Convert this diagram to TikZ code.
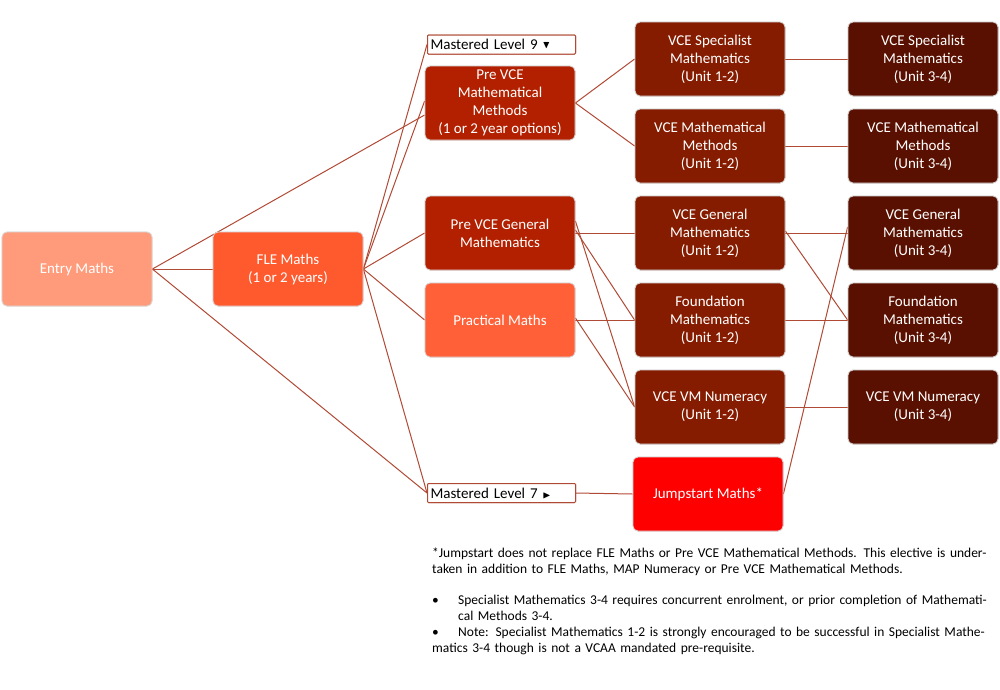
\documentclass[tikz,border=0pt]{standalone}
\usepackage{amssymb}
\usepackage{fontspec}
\setmainfont{Carlito}
\begin{document}
\begin{tikzpicture}[x=1pt,y=-1pt,
 box/.style={draw=white!85!black,line width=0.8pt,rounded corners=5pt,text=white,align=center,font=\fontsize{15}{18}\selectfont,inner sep=0pt},
 ln/.style={draw=lnc,line width=1pt},
 lab/.style={draw=lnc,line width=1pt,fill=white,rounded corners=1pt,font=\fontsize{15}{17}\selectfont,anchor=west,text width=142pt,align=left,minimum height=19pt,inner sep=3pt}]
\definecolor{lnc}{HTML}{B04A35}
\definecolor{cEntry}{HTML}{FF9A7A}
\definecolor{cFle}{HTML}{FF5A2E}
\definecolor{cPre}{HTML}{B22000}
\definecolor{cPrac}{HTML}{FF6038}
\definecolor{cC4}{HTML}{851C00}
\definecolor{cC5}{HTML}{5A1000}
\useasboundingbox (0,0) rectangle (1000,689);
\newcommand{\bx}[5]{\node[box,fill=#2,minimum width=150pt,minimum height=74pt] (#1) at (#3,#4) {#5};}
\newcommand{\allboxes}{%
\bx{entry}{cEntry}{77}{269}{Entry Maths}
\bx{fle}{cFle}{288}{269}{FLE Maths\\(1 or 2 years)}
\bx{premm}{cPre}{500}{103}{Pre VCE\\Mathematical\\Methods\\(1 or 2 year options)}
\bx{pregen}{cPre}{500}{233}{Pre VCE General\\Mathematics}
\bx{prac}{cPrac}{500}{320}{Practical Maths}
\bx{spec12}{cC4}{710}{59}{VCE Specialist\\Mathematics\\(Unit 1-2)}
\bx{mm12}{cC4}{710}{146}{VCE Mathematical\\Methods\\(Unit 1-2)}
\bx{gen12}{cC4}{710}{233}{VCE General\\Mathematics\\(Unit 1-2)}
\bx{fnd12}{cC4}{710}{320}{Foundation\\Mathematics\\(Unit 1-2)}
\bx{vm12}{cC4}{710}{407}{VCE VM Numeracy\\(Unit 1-2)}
\bx{jump}{red}{708}{494}{Jumpstart Maths*}
\bx{spec34}{cC5}{923}{59}{VCE Specialist\\Mathematics\\(Unit 3-4)}
\bx{mm34}{cC5}{923}{146}{VCE Mathematical\\Methods\\(Unit 3-4)}
\bx{gen34}{cC5}{923}{233}{VCE General\\Mathematics\\(Unit 3-4)}
\bx{fnd34}{cC5}{923}{320}{Foundation\\Mathematics\\(Unit 3-4)}
\bx{vm34}{cC5}{923}{407}{VCE VM Numeracy\\(Unit 3-4)}
\node[lab] (ml9) at (427,44.5) {Mastered Level 9 \raisebox{1pt}{\scalebox{0.7}{$\blacktriangledown$}}};
\node[lab] (ml7) at (427,493) {Mastered Level 7 \scalebox{0.7}{$\blacktriangleright$}};}
\allboxes
\draw[ln] (entry.east) -- (fle.west);
\draw[ln] (entry.east) -- ([yshift=-12pt]premm.west);
\draw[ln] (entry.east) -- (ml7.west);
\draw[ln] (fle.east) -- (ml9.west);
\draw[ln] (fle.east) -- ([yshift=2pt]premm.west);
\draw[ln] (fle.east) -- (pregen.west);
\draw[ln] (fle.east) -- (prac.west);
\draw[ln] (fle.east) -- (ml7.west);
\draw[ln] (premm.east) -- (spec12.west);
\draw[ln] (premm.east) -- (mm12.west);
\draw[ln] (pregen.east) -- (gen12.west);
\draw[ln] ([yshift=3pt]pregen.east) -- (fnd12.west);
\draw[ln] ([yshift=12pt]pregen.east) -- (vm12.west);
\draw[ln] (prac.east) -- (fnd12.west);
\draw[ln] ([yshift=2pt]prac.east) -- (vm12.west);
\draw[ln] (ml7.east) -- (jump.west);
\draw[ln] (jump.east) -- ([yshift=6pt]gen34.west);
\draw[ln] (spec12.east) -- (spec34.west);
\draw[ln] (mm12.east) -- (mm34.west);
\draw[ln] (gen12.east) -- (gen34.west);
\draw[ln] ([yshift=2pt]gen12.east) -- (fnd34.west);
\draw[ln] (fnd12.east) -- (fnd34.west);
\draw[ln] (vm12.east) -- (vm34.west);
\allboxes
\node[anchor=north west,text width=555pt,inner sep=0pt,font=\fontsize{13.5}{16}\selectfont,align=left] (note) at (432,548) {*Jumpstart does not replace FLE Maths or Pre VCE Mathematical Methods. This elective is undertaken in addition to FLE Maths, MAP Numeracy or Pre VCE Mathematical Methods.\par\vspace{15pt}
\hangindent=26pt\hangafter=1 \makebox[26pt][l]{•}Specialist Mathematics 3-4 requires concurrent enrolment, or prior completion of Mathematical Methods 3-4.\par
\hangindent=26pt\hangafter=1 \makebox[26pt][l]{•}Note: Specialist Mathematics 1-2 is strongly encouraged to be successful in Specialist Mathematics 3-4 though is not a VCAA mandated pre-requisite.};
\end{tikzpicture}
\end{document}
